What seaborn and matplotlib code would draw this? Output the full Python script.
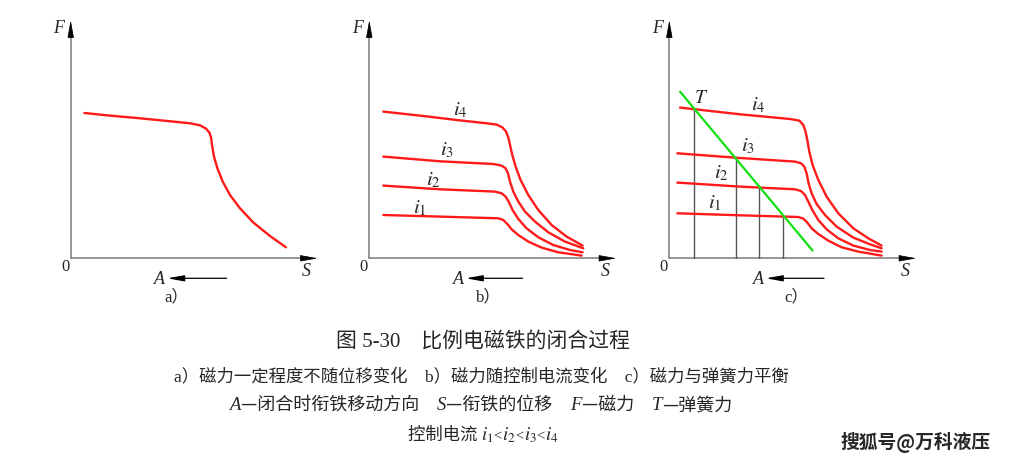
import matplotlib
matplotlib.use("Agg")
from matplotlib import pyplot as plt
import seaborn as sns
import pandas as pd

sns.set_style("white")
plt.rcParams['font.family'] = ['Liberation Serif', 'Noto Sans CJK SC', 'DejaVu Sans']
plt.rcParams['mathtext.fontset'] = 'stix'

# ---- data (S = displacement, F = force, pixel-like units) ----
# panel a: single curve
a_s = [13.7, 36, 69.3, 102.7, 119.3, 129.3, 135.3, 138.7, 140.3, 141.3, 143.3, 146.7, 152, 159.3, 169.3, 182.7, 199.3, 215.3]
a_f = [145.3, 143, 140, 136.7, 135, 133, 129.7, 125.7, 121, 113.3, 101.7, 90, 76.7, 63.3, 50, 35.7, 22.3, 11]

# panel b: four currents
b_i4_s = [14, 54, 87.3, 117.3, 127.3, 133, 136.7, 139, 140.7, 143, 146.3, 151.3, 159, 169, 182.3, 197.3, 213.3]
b_i4_f = [146.7, 142.3, 138.3, 135, 133.7, 131, 126.7, 121, 113.3, 103.3, 91.7, 78.3, 63.3, 48.3, 33.3, 21.7, 12.7]
b_i3_s = [14, 70.7, 124, 132.3, 136.3, 138.7, 140.7, 144, 149, 155.7, 165.7, 179, 195.7, 214]
b_i3_f = [101.7, 97, 94.3, 92.7, 90, 85, 76.7, 66.7, 56.7, 46.7, 36.7, 26, 16.7, 10]
b_i2_s = [14, 70.7, 125.7, 132.3, 136.3, 139.7, 143.3, 149, 157.3, 169, 184, 200.7, 213.3]
b_i2_f = [72.7, 69, 66.7, 65, 61.7, 56, 48.3, 39.3, 30, 21, 13.3, 8.3, 6]
b_i1_s = [14, 70.7, 129, 134, 138, 142.3, 149, 159, 172.3, 189, 212.3]
b_i1_f = [43.3, 41.7, 40, 38.3, 34.3, 29, 23.3, 16.7, 10.7, 6, 2.7]

# panel c: four currents + spring line
c_i4_s = [10.7, 70.7, 120.7, 130, 134, 136.3, 138, 140, 143.3, 149, 157.3, 169, 184, 199, 212.3]
c_i4_f = [150.7, 144, 139.3, 137.7, 133.3, 126.7, 118.3, 106.7, 93.3, 78.3, 61.7, 45, 30, 20, 12.7]
c_i3_s = [8, 70.7, 125.7, 131.7, 135, 137.3, 139.3, 142.3, 147.3, 155.7, 167.3, 184, 200.7, 212.3]
c_i3_f = [105, 100.3, 96.7, 95, 91.7, 85, 75, 65, 54.3, 43.3, 31.7, 20.7, 14, 10]
c_i2_s = [8, 70.7, 125.7, 131.7, 135.7, 139, 143, 149, 157.3, 169, 184, 200.7, 212.3]
c_i2_f = [75.7, 71.7, 69, 67.3, 63.3, 56.7, 48.3, 38.3, 29, 20, 12.7, 8.3, 6.7]
c_i1_s = [8, 70.7, 129, 134, 138, 142.3, 149, 159, 172.3, 189, 212.3]
c_i1_f = [45, 43, 41.3, 39.7, 35.7, 30, 24.3, 17.7, 11, 6.7, 2.7]
spring_s = [10.7, 143.3]
spring_f = [166.7, 7.7]
equil_s = [25, 66.3, 90, 114]
equil_f = [149.5, 100.5, 71, 42]

panel_tags = ['a）', 'b）', 'c）']
current_labels = ['$i_1$', '$i_2$', '$i_3$', '$i_4$']

title = '图 5-30　比例电磁铁的闭合过程'
line2 = 'a）磁力一定程度不随位移变化　b）磁力随控制电流变化　c）磁力与弹簧力平衡'
# (text, kind) pieces: 'sym' = italic serif letter, 'math' = mathtext, 'cjk' = Chinese, 'op' = serif sign
line3 = [('A', 'sym'), ('—闭合时衔铁移动方向　', 'cjk'), ('S', 'sym'), ('—衔铁的位移　', 'cjk'),
         ('F', 'sym'), ('—磁力　', 'cjk'), ('T', 'sym'), ('—弹簧力', 'cjk')]
line4 = [('控制电流 ', 'cjk'), ('$i_1$', 'math'), ('<', 'op'), ('$i_2$', 'math'), ('<', 'op'),
         ('$i_3$', 'math'), ('<', 'op'), ('$i_4$', 'math')]
mark = '搜狐号@万科液压'

# ---- figure ----
W, H = 1020, 469
fig = plt.figure(figsize=(W / 100, H / 100), dpi=100)
fig.patch.set_facecolor('white')

origins = [(70.7, 258.3), (369.3, 258.3), (669.3, 258.3)]
XL, YL = (-35, 255), (-50, 250)
RED = '#ff1a1a'


def make_axes(ox, oy):
    left = (ox + XL[0]) / W
    bottom = (H - (oy - YL[0])) / H
    ax = fig.add_axes([left, bottom, (XL[1] - XL[0]) / W, (YL[1] - YL[0]) / H])
    ax.set_xlim(*XL)
    ax.set_ylim(*YL)
    ax.axis('off')
    return ax


def frame(ax, tag, tag_x, arrow_tail):
    ax.plot([0, 0], [0, 226], color='#7a7a7a', lw=1.1)
    ax.plot([0, 235], [0, 0], color='#7a7a7a', lw=1.1)
    hp = dict(arrowstyle='-|>,head_length=1.1,head_width=0.2', color='black', lw=0.5,
              shrinkA=0, shrinkB=0)
    ax.annotate('', xy=(0, 238), xytext=(0, 222), arrowprops=hp)
    ax.annotate('', xy=(247, 0), xytext=(231, 0), arrowprops=hp)
    ax.annotate('', xy=(96.5, -20), xytext=(arrow_tail, -20),
                arrowprops=dict(arrowstyle='-|>,head_length=1.0,head_width=0.18', color='black',
                                lw=0.9, shrinkA=0, shrinkB=0))
    it = dict(fontsize=13, style='italic', family='Liberation Serif', ha='center', va='center')
    ax.text(-12, 230, 'F', **it)
    ax.text(236, -13.3, 'S', **it)
    ax.text(89, -21, 'A', **it)
    ax.text(-5.5, -8.5, '0', fontsize=12, ha='center', va='center')
    ax.text(tag_x, -39, tag, fontsize=12, ha='center', va='center')


def curve(ax, s, f, color=RED, lw=1.7):
    df = pd.DataFrame({'S': s, 'F': f})
    sns.lineplot(data=df, x='S', y='F', ax=ax, color=color, lw=lw, sort=False,
                 estimator=None, legend=False)
    ax.set_xlim(*XL)
    ax.set_ylim(*YL)
    ax.axis('off')


# panel a
ax_a = make_axes(*origins[0])
frame(ax_a, panel_tags[0], 106, 156)
curve(ax_a, a_s, a_f)

# panel b
ax_b = make_axes(*origins[1])
frame(ax_b, panel_tags[1], 119, 153.3)
for s, f in [(b_i1_s, b_i1_f), (b_i2_s, b_i2_f), (b_i3_s, b_i3_f), (b_i4_s, b_i4_f)]:
    curve(ax_b, s, f)
b_label_pos = [(50.7, 50), (64, 78.3), (77.3, 107.7), (90.7, 148.3)]
for lab, (x, y) in zip(current_labels, b_label_pos):
    ax_b.text(x, y, lab, fontsize=15, ha='center', va='center')

# panel c
ax_c = make_axes(*origins[2])
frame(ax_c, panel_tags[2], 127, 154.7)
for s, f in zip(equil_s, equil_f):
    ax_c.plot([s, s], [0, f], color='#555555', lw=1.0)
for s, f in [(c_i1_s, c_i1_f), (c_i2_s, c_i2_f), (c_i3_s, c_i3_f), (c_i4_s, c_i4_f)]:
    curve(ax_c, s, f)
curve(ax_c, spring_s, spring_f, color='#11e011', lw=1.6)
c_label_pos = [(45.7, 55), (52.3, 85), (79, 111.7), (89, 153.3)]
for lab, (x, y) in zip(current_labels, c_label_pos):
    ax_c.text(x, y, lab, fontsize=15, ha='center', va='center')
ax_c.text(32.3, 160, '$T$', fontsize=14, ha='center', va='center')

# captions, on a full-figure axes in pixel units
cap = fig.add_axes([0, 0, 1, 1])
cap.set_xlim(0, W)
cap.set_ylim(H, 0)
cap.axis('off')
cap.patch.set_alpha(0)

cap.text(483, 342, title, fontsize=15, ha='center', va='center')
cap.text(481, 377, line2, fontsize=12.5, ha='center', va='center')


def mixed_line(pieces, cx, base_y, size):
    renderer = fig.canvas.get_renderer()
    texts = []
    for txt, kind in pieces:
        if kind == 'sym':
            t = cap.text(0, base_y, txt, fontsize=size + 0.5, style='italic',
                         family='Liberation Serif', va='baseline', ha='left')
        elif kind == 'math':
            t = cap.text(0, base_y, txt, fontsize=size + 1, va='baseline', ha='left')
        elif kind == 'op':
            t = cap.text(0, base_y, txt, fontsize=size - 2, va='baseline', ha='left',
                         family='Liberation Serif')
        else:
            t = cap.text(0, base_y, txt, fontsize=size, va='baseline', ha='left',
                         family=['Noto Sans CJK SC', 'DejaVu Sans'])
        texts.append(t)
    widths = [t.get_window_extent(renderer).width for t in texts]
    x = cx - sum(widths) / 2
    for t, w in zip(texts, widths):
        t.set_x(x)
        x += w


mixed_line(line3, 481, 410, 13)
mixed_line(line4, 483, 440, 12.5)

cap.text(916, 442, mark, fontsize=13.5, weight='bold', ha='center', va='center',
         family=['Noto Sans CJK SC', 'DejaVu Sans'])

fig.savefig('out.png', dpi=100, facecolor='white')
